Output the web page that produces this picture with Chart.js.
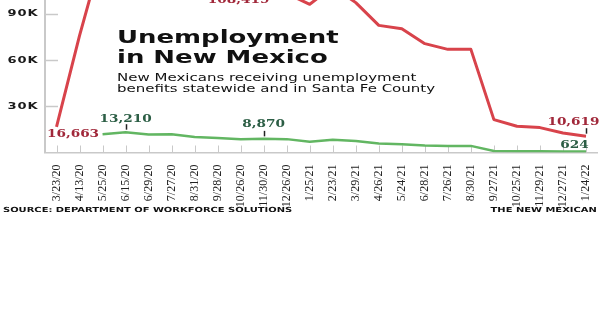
<!DOCTYPE html>
<html>
<head>
<meta charset="utf-8">
<script src="https://cdn.jsdelivr.net/npm/chart.js@4.4.1/dist/chart.umd.min.js"></script>
<style>
html, body { margin: 0; padding: 0; background: #fff; }
#wrap { position: relative; width: 600px; height: 315px; overflow: hidden; }
#c { position: absolute; left: 0; top: 0; }
.txt { position: absolute; white-space: nowrap; font-family: "DejaVu Sans", sans-serif; color: #111; transform-origin: 0 0; }
#title { left: 117px; top: 27px; font-size: 18px; font-weight: bold; line-height: 20px; transform: scaleX(1.44); }
#sub { left: 117px; top: 72px; font-size: 10px; line-height: 11px; transform: scaleX(1.5); }
#source { left: 3px; top: 206px; font-size: 7px; font-weight: bold; transform: scaleX(1.42); }
#credit { right: 3px; top: 206px; font-size: 7px; font-weight: bold; transform: scaleX(1.42); transform-origin: 100% 0; }
</style>
</head>
<body>
<div id="wrap">
	<canvas id="c" width="600" height="315"></canvas>
	<div class="txt" id="title">Unemployment<br>in New Mexico</div>
	<div class="txt" id="sub">New Mexicans receiving unemployment<br>benefits statewide and in Santa Fe County</div>
	<div class="txt" id="source">SOURCE: DEPARTMENT OF WORKFORCE SOLUTIONS</div>
	<div class="txt" id="credit">THE NEW MEXICAN</div>
</div>
<script>
const dates = [
	'3/23/20', '4/13/20', '5/25/20', '6/15/20', '6/29/20', '7/27/20', '8/31/20', '9/28/20',
	'10/26/20', '11/30/20', '12/26/20', '1/25/21', '2/23/21', '3/29/21', '4/26/21', '5/24/21',
	'6/28/21', '7/26/21', '8/30/21', '9/27/21', '10/25/21', '11/29/21', '12/27/21', '1/24/22',
];
// statewide claims (upper part of the line runs off the top of the graphic)
const statewide = [
	16663, 76000, 130000, 145000, 142000, 136000, 125000, 117000,
	108419, 113000, 103400, 96400, 108000, 97500, 82700, 80500,
	70800, 67100, 67100, 21400, 17100, 16200, 12700, 10619,
];
// Santa Fe County
const santaFe = [
	null, null, 11900, 13210, 11700, 11900, 10100, 9500,
	8600, 8870, 8700, 7000, 8300, 7500, 5800, 5400,
	4500, 4300, 4300, 1000, 850, 800, 700, 624,
];
const statewideCallouts = [0, 8, 23];
const santaFeCallouts = [3, 9, 23];
const yTicks = [30000, 60000, 90000];
const yTickLabels = ['30K', '60K', '90K'];

const RED = '#d8434b';
const RED_TEXT = '#a1283a';
const GREEN = '#62b662';
const GREEN_TEXT = '#2c5e45';
const AXIS = '#c9c9c9';

// where each callout sits relative to its point
const placement = {
	'0-0': {dx: 16.5, dy: 7.5},
	'0-8': {dx: -2, dy: 14},
	'0-23': {dx: -12.5, dy: -14.5, mark: true},
	'1-3': {dx: 0, dy: -12.7, mark: true},
	'1-9': {dx: 0, dy: -14.7, mark: true},
	'1-23': {dx: -11.5, dy: -6},
};

const stretchText = (ctx, text, x, y, k, align) => {
	ctx.save();
	ctx.translate(x, y);
	ctx.scale(k, 1);
	ctx.textAlign = align;
	ctx.textBaseline = 'middle';
	ctx.fillText(text, 0, 0);
	ctx.restore();
};

const decor = {
	id: 'decor',
	beforeDatasetsDraw(chart) {
		const {ctx, chartArea, scales: {x, y}} = chart;
		ctx.save();
		ctx.strokeStyle = AXIS;
		ctx.lineWidth = 1.5;
		yTicks.forEach((v) => {
			const py = Math.round(y.getPixelForValue(v)) + 0.5;
			ctx.beginPath();
			ctx.moveTo(chartArea.left, py);
			ctx.lineTo(chartArea.left + 13, py);
			ctx.stroke();
		});
		ctx.lineWidth = 1;
		dates.forEach((_, i) => {
			const px = Math.round(x.getPixelForValue(i)) + 0.5;
			ctx.beginPath();
			ctx.moveTo(px, chartArea.bottom - 7);
			ctx.lineTo(px, chartArea.bottom);
			ctx.stroke();
		});
		ctx.fillStyle = '#1a1a1a';
		ctx.font = 'bold 9px "DejaVu Sans"';
		ctx.letterSpacing = '0.6px';
		yTicks.forEach((v, i) => {
			stretchText(ctx, yTickLabels[i], 38.5, y.getPixelForValue(v), 1.45, 'right');
		});
		ctx.restore();
	},
	afterDatasetsDraw(chart) {
		const {ctx, scales: {x, y}} = chart;
		ctx.save();
		ctx.font = 'bold 11px "DejaVu Serif"';
		[[statewide, statewideCallouts, RED_TEXT], [santaFe, santaFeCallouts, GREEN_TEXT]].forEach(([series, idx, color], s) => {
			idx.forEach((i) => {
				const p = placement[s + '-' + i];
				const px = x.getPixelForValue(i);
				const py = y.getPixelForValue(series[i]);
				ctx.fillStyle = color;
				stretchText(ctx, series[i].toLocaleString('en-US'), px + p.dx, py + p.dy, 1.24, 'center');
				if (p.mark) {
					ctx.strokeStyle = '#222';
					ctx.lineWidth = 1.5;
					ctx.beginPath();
					ctx.moveTo(Math.round(px) + 0.5, py - 8);
					ctx.lineTo(Math.round(px) + 0.5, py - 2.5);
					ctx.stroke();
				}
			});
		});
		ctx.restore();
	},
};

new Chart(document.getElementById('c'), {
	type: 'line',
	data: {
		labels: dates,
		datasets: [
			{
				label: 'Statewide',
				data: statewide,
				borderColor: RED,
				borderWidth: 3,
				pointRadius: 0,
				borderJoinStyle: 'round',
			},
			{
				label: 'Santa Fe County',
				data: santaFe,
				borderColor: GREEN,
				borderWidth: 2.5,
				pointRadius: 0,
				borderJoinStyle: 'round',
			},
		],
	},
	options: {
		responsive: false,
		animation: false,
		layout: {padding: {top: 0, left: 0, right: 2.5, bottom: 0}},
		plugins: {legend: {display: false}, tooltip: {enabled: false}},
		scales: {
			x: {
				offset: true,
				grid: {display: false},
				border: {display: true, color: AXIS, width: 1.5},
				ticks: {
					autoSkip: false,
					maxRotation: 90,
					minRotation: 90,
					padding: 4,
					color: '#222',
					font: {family: '"Liberation Sans Narrow"', size: 12},
				},
				afterFit(s) { s.height = 162.5; s.paddingLeft = 0; s.paddingRight = 0; },
			},
			y: {
				min: 0,
				max: 99200,
				grid: {display: false},
				border: {display: true, color: AXIS, width: 2},
				ticks: {display: false, stepSize: 30000},
				afterFit(s) { s.width = 45; s.paddingTop = 0; s.paddingBottom = 0; },
			},
		},
	},
	plugins: [decor],
});
</script>
</body>
</html>
